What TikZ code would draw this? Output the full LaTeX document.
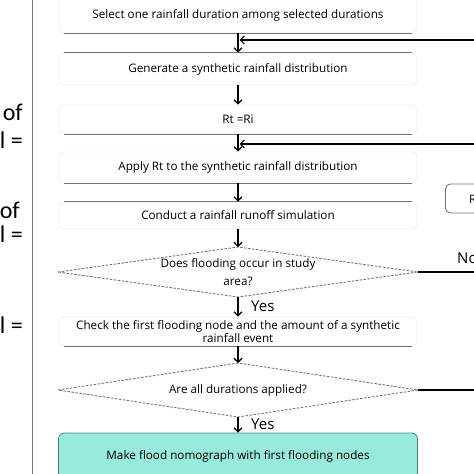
\documentclass[tikz,border=0pt]{standalone}
\usepackage{fontspec}
\setmainfont{Open Sans}
\newfontfamily\leftfont{Carlito}
\usetikzlibrary{calc,arrows.meta}
\begin{document}
\begin{tikzpicture}[x=1pt,y=-1pt,
  boxfaint/.style={draw=black!7, line width=0.8pt, rounded corners=5pt, minimum width=358pt, inner sep=0pt, font=\fontsize{11.7}{13.5}\selectfont, align=center},
  edgeline/.style={draw=black!55, line width=1.1pt},
  flow/.style={draw=black, line width=1.4pt, -{Straight Barb[length=4pt,width=8pt,line width=1.2pt]}},
  plainline/.style={draw=black, line width=1.4pt},
  dia/.style={draw=black!55, line width=0.9pt, dash pattern=on 2.5pt off 1.5pt},
  difont/.style={font=\fontsize{11.7}{18}\selectfont, align=center, inner sep=0pt},
  lbl/.style={font=\fontsize{15}{17}\selectfont, inner sep=0pt},
  bigl/.style={font=\leftfont\fontsize{24}{26}\selectfont, inner sep=0pt, anchor=base east},
  endbox/.style={draw=teal!60!black!70, fill=tealfill, line width=0.8pt, rounded corners=6pt, minimum width=359pt, minimum height=46pt, inner sep=0pt, font=\fontsize{11.7}{13}\selectfont}
]
\definecolor{tealfill}{RGB}{152,234,220}
\useasboundingbox (0,0) rectangle (474,474);

% left column
\coordinate (vt) at (32,0);
\coordinate (vb) at (32,474);
\draw[draw=black!55, line width=1pt] (vt) -- (vb);
\node[bigl] (l1) at (23,120) {of};
\node[bigl] (l2) at (23,148) {l =};
\node[bigl] (l3) at (20,218) {of};
\node[bigl] (l4) at (23,242) {l =};
\node[bigl] (l5) at (23,333) {l =};

% boxes
\node[boxfaint, minimum height=36pt] (b1) at (238,15) {Select one rainfall duration among selected durations};
\node[boxfaint, minimum height=32pt] (b2) at (238,69) {Generate a synthetic rainfall distribution};
\node[boxfaint, minimum height=29pt] (b3) at (238,119.5) {Rt =Ri};
\node[boxfaint, minimum height=31pt] (b4) at (238,167.5) {Apply Rt to the synthetic rainfall distribution};
\node[boxfaint, minimum height=27pt] (b5) at (238,215.5) {Conduct a rainfall runoff simulation};
\node[boxfaint, minimum height=29pt] (b6) at (238,331.5) {Check the first flooding node and the amount of a synthetic\\rainfall event};
\node[endbox] (b7) at (238,456) {Make flood nomograph with first flooding nodes};

% visible edges
\draw[edgeline] ($(b1.south west)+(5,0)$) -- ($(b1.south east)+(-5,0)$);
\draw[edgeline] ($(b2.north west)+(5,0)$) -- ($(b2.north east)+(-5,0)$);
\draw[edgeline] ($(b3.south west)+(5,0)$) -- ($(b3.south east)+(-5,0)$);
\draw[edgeline] ($(b4.south west)+(5,0)$) -- ($(b4.south east)+(-5,0)$);
\draw[edgeline] ($(b5.north west)+(5,0)$) -- ($(b5.north east)+(-5,0)$);
\draw[edgeline] ($(b6.south west)+(5,0)$) -- ($(b6.south east)+(-5,0)$);

% diamonds
\coordinate (d1w) at (58,272);
\coordinate (d1n) at (238,247);
\coordinate (d1e) at (418,272);
\coordinate (d1s) at (238,297);
\draw[dia] (d1w) -- (d1n) -- (d1e) -- (d1s) -- cycle;
\node[difont] (d1) at (238,272) {Does flooding occur in study\\area?};

\coordinate (d2w) at (58,390);
\coordinate (d2n) at (238,363);
\coordinate (d2e) at (418,390);
\coordinate (d2s) at (238,417);
\draw[dia] (d2w) -- (d2n) -- (d2e) -- (d2s) -- cycle;
\node[difont] (d2) at (238,390) {Are all durations applied?};

% flow arrows
\draw[flow] (b1.south) -- (b2.north);
\draw[flow] (b2.south) -- (b3.north);
\draw[flow] (b3.south) -- (b4.north);
\draw[flow] (b4.south) -- (b5.north);
\draw[flow] (b5.south) -- (d1n);
\draw[flow] (d1s) -- (b6.north);
\draw[flow] (b6.south) -- (d2n);
\draw[flow] (d2s) -- (b7.north);

\node[lbl, anchor=west] (y1) at (251,306) {Yes};
\node[lbl, anchor=west] (y2) at (251,424) {Yes};

% feedback arrows
\coordinate (j1) at (239.5,40);
\coordinate (f1) at (474,40);
\draw[flow] (f1) -- (j1);
\coordinate (j2) at (239.5,144);
\coordinate (f2) at (474,144);
\draw[flow] (f2) -- (j2);

% right side
\coordinate (r1) at (474,272);
\draw[plainline] (d1e) -- (r1);
\node[lbl, anchor=west] (no) at (457,258) {No};
\coordinate (r2) at (474,390);
\draw[plainline] (d2e) -- (r2);
\node[draw=black!55, line width=0.9pt, rounded corners=5pt, minimum width=70pt, minimum height=29pt, anchor=west, inner sep=0pt] (rb) at (445,198.5) {};
\node[font=\fontsize{11.7}{13}\selectfont, inner sep=0pt, anchor=west] (rt) at (469,199) {R};
\end{tikzpicture}
\end{document}
